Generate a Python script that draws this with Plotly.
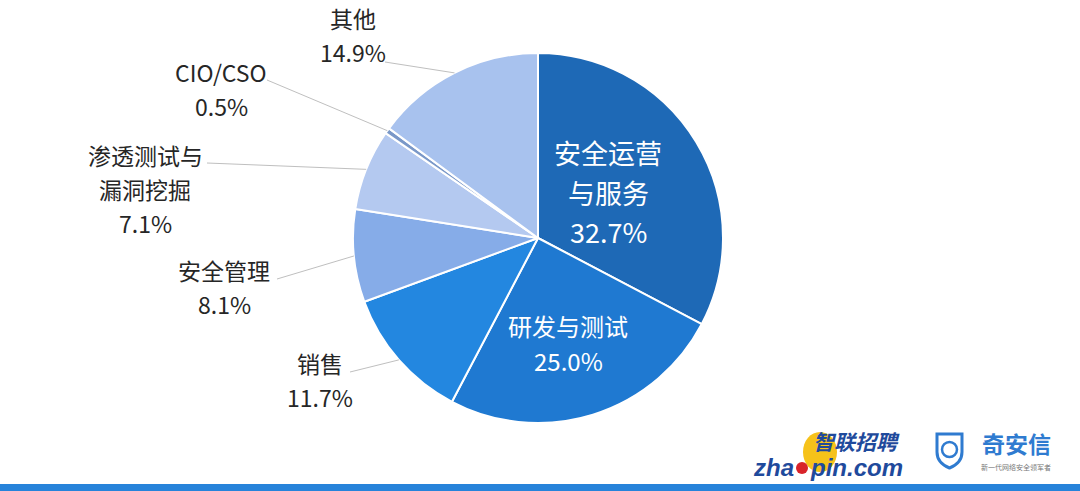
import math
import plotly.graph_objects as go

# ---- data ----
categories = ["安全运营\n与服务", "研发与测试", "销售", "安全管理", "渗透测试与\n漏洞挖掘", "CIO/CSO", "其他"]
values = [32.7, 25.0, 11.7, 8.1, 7.1, 0.5, 14.9]
colors = ["#1E69B6", "#1F79D1", "#2387E0", "#86ACE8", "#B4C9F0", "#7A98C8", "#A8C2EE"]

# ---- layout constants (px) ----
W, H = 1080, 491
CX, CY, R = 538, 238, 185

def px(x, y):
    return x / W, 1 - y / H

fig = go.Figure(go.Pie(
    labels=[c.replace("\n", "") for c in categories],
    values=values,
    sort=False,
    direction="clockwise",
    rotation=0,
    marker=dict(colors=colors, line=dict(color="white", width=2)),
    textinfo="none",
    showlegend=False,
    domain=dict(x=[(CX - R) / W, (CX + R) / W], y=[1 - (CY + R) / H, 1 - (CY - R) / H]),
))

annotations = []
shapes = []

def note(text, x, y, size, color, family="Noto Sans CJK SC", xanchor="center"):
    ax, ay = px(x, y)
    annotations.append(dict(text=text, x=ax, y=ay, xref="paper", yref="paper",
                            xanchor=xanchor, yanchor="middle", showarrow=False,
                            font=dict(size=size, color=color, family=family)))

# inside label settings: (center x, first line y, font size, line spacing)
inside = {0: (608, 152, 27, 40), 1: (568, 325, 24, 35)}
# outside label settings: (center x, first line y, leader start x, leader start y)
outside = {
    2: (320, 363, 350, 372),
    3: (224, 270, 277, 279),
    4: (145, 155, 207, 163),
    5: (221, 72, 267, 80),
    6: (353, 18, 385, 62),
}

total = sum(values)
cum = 0.0
for i, (cat, v) in enumerate(zip(categories, values)):
    mid = (cum + v / 2) / total
    cum += v
    theta = 2 * math.pi * mid
    ex = CX + R * math.sin(theta)
    ey = CY - R * math.cos(theta)
    lines = cat.split("\n") + [f"{v:.1f}%"]
    if i in inside:
        x0, y0, fs, sp = inside[i]
        color = "white"
    else:
        x0, y0, lx, ly = outside[i]
        fs, sp = 23, 34
        color = "#262626"
        a, b = px(lx, ly)
        c, d = px(ex, ey)
        shapes.append(dict(type="line", xref="paper", yref="paper", x0=a, y0=b, x1=c, y1=d,
                           line=dict(color="#BFBFBF", width=1)))
    for k, t in enumerate(lines):
        note(t, x0, y0 + k * sp, fs, color)

# bottom bar
shapes.append(dict(type="rect", xref="paper", yref="paper", x0=0, x1=1, y0=0, y1=7 / H,
                   fillcolor="#2783DA", line=dict(width=0), layer="above"))

# zhaopin logo (approximation)
a, b = px(803, 432); c, d = px(837, 472)
shapes.append(dict(type="circle", xref="paper", yref="paper", x0=a, y0=d, x1=c, y1=b,
                   fillcolor="#F6C21A", line=dict(width=0), layer="below"))
a, b = px(796, 462); c, d = px(808, 474)
shapes.append(dict(type="circle", xref="paper", yref="paper", x0=a, y0=d, x1=c, y1=b,
                   fillcolor="#D8232A", line=dict(width=0), layer="above"))
note("<b><i>智联招聘</i></b>", 856, 441, 21, "#1F4A9C")
note("<b><i>zha</i></b>", 796, 467, 24, "#1F4A9C", family="Liberation Sans", xanchor="right")
note("<b><i>pin.com</i></b>", 808, 467, 24, "#1F4A9C", family="Liberation Sans", xanchor="left")

# qianxin logo (approximation)
def P(x, y):
    a, b = px(x, y)
    return f"{a:.5f},{b:.5f}"
shield = (f"M {P(937,434)} L {P(962,434)} L {P(962,452)} Q {P(962,463)} {P(949.5,468)} "
          f"Q {P(937,463)} {P(937,452)} Z")
shapes.append(dict(type="path", xref="paper", yref="paper", path=shield,
                   fillcolor="rgba(0,0,0,0)", line=dict(color="#2F7BD0", width=3)))
a, b = px(942, 442); c, d = px(957, 457)
shapes.append(dict(type="circle", xref="paper", yref="paper", x0=a, y0=d, x1=c, y1=b,
                   line=dict(color="#2F7BD0", width=2.5)))
note("<b>奇安信</b>", 1016, 443, 23, "#2F7BD0")
note("新一代网络安全领军者", 1016, 467, 7, "#777777")

fig.update_layout(
    width=W, height=H,
    margin=dict(l=0, r=0, t=0, b=0),
    paper_bgcolor="white", plot_bgcolor="white",
    annotations=annotations, shapes=shapes,
)
fig.write_html("out.html")
